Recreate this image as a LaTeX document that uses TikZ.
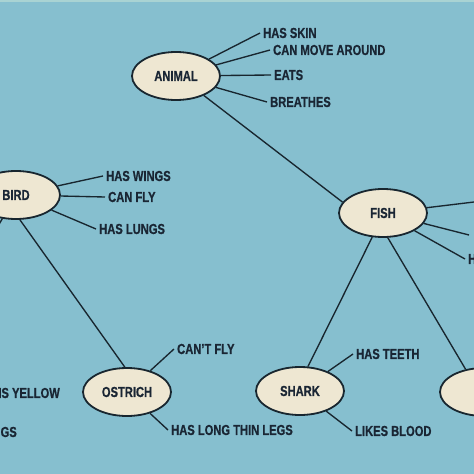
\documentclass[tikz,border=0pt]{standalone}
\usepackage{fontspec}
\setmainfont{Liberation Sans}[FakeStretch=0.77, BoldFeatures={FakeBold=0.6}]
\definecolor{seablue}{HTML}{86BFCF}
\definecolor{paleband}{HTML}{A9D3D3}
\definecolor{inkline}{HTML}{18262F}
\definecolor{inktext}{HTML}{1A2634}
\definecolor{cream}{HTML}{EEE7D2}
\tikzset{
  concept/.style={ellipse, draw=inkline, line width=1.8pt, fill=cream,
    minimum width=88pt, minimum height=48pt, inner sep=0pt,
    font=\fontsize{14.5}{15}\selectfont\bfseries, text=inktext},
  prop/.style={inner xsep=3pt, inner ysep=1pt, anchor=west,
    font=\fontsize{14.5}{15}\selectfont\bfseries, text=inktext},
  propl/.style={prop, anchor=east},
  link/.style={draw=inkline, line width=1.35pt}
}
\usetikzlibrary{shapes.geometric}
\begin{document}
\begin{tikzpicture}[x=1pt,y=-1pt]
\useasboundingbox (0,0) rectangle (474,474);
\clip (0,0) rectangle (474,474);
\fill[seablue] (0,0) rectangle (474,474);
\fill[paleband] (0,0) rectangle (474,2);
% concepts
\node[concept] (animal) at (176,76) {ANIMAL};
\node[concept] (bird) at (16,195) {BIRD};
\node[concept] (fish) at (383,213) {FISH};
\node[concept] (ostrich) at (127,392) {OSTRICH};
\node[concept] (shark) at (300,391) {SHARK};
\node[concept] (salmon) at (484,392) {};
% properties
\node[prop] (hasskin) at (260,33) {HAS SKIN};
\node[prop] (canmove) at (270,50) {CAN MOVE AROUND};
\node[prop] (eats) at (271,75) {EATS};
\node[prop] (breathes) at (267,102) {BREATHES};
\node[prop] (haswings) at (103,176) {HAS WINGS};
\node[prop] (canfly) at (105,197) {CAN FLY};
\node[prop] (haslungs) at (96,229) {HAS LUNGS};
\node[prop] (cantfly) at (174,349) {CAN'T FLY};
\node[prop] (haslong) at (168,430) {HAS LONG THIN LEGS};
\node[prop] (hasteeth) at (353,354) {HAS TEETH};
\node[prop] (likesblood) at (352,431) {LIKES BLOOD};
\node[propl] (isyellow) at (63,393) {IS YELLOW};
\node[propl] (sings) at (20,432) {SINGS};
\node[prop] (fishh) at (465,259) {H};
\coordinate (fishend1) at (474,202);
\coordinate (fishend2) at (469,235);
\coordinate (canaryend) at (-10,240);
% links
\draw[link] (animal.-35) to (fish.165);
\draw[link] (bird.-81) to (ostrich.95);
\draw[link] (fish.-114) to (shark.72);
\draw[link] (fish.-79) to (salmon.129);
\draw[link] (bird) to (canaryend);
\draw[link] (animal) to (hasskin.west);
\draw[link] (animal) to (canmove.west);
\draw[link] (animal) to (eats.west);
\draw[link] (animal) to (breathes.west);
\draw[link] (bird) to (haswings.west);
\draw[link] (bird) to (canfly.west);
\draw[link] (bird) to (haslungs.west);
\draw[link] (ostrich) to (cantfly.west);
\draw[link] (ostrich) to (haslong.west);
\draw[link] (shark) to (hasteeth.west);
\draw[link] (shark) to (likesblood.west);
\draw[link] (fish) to (fishend1);
\draw[link] (fish) to (fishend2);
\draw[link] (fish) to (fishh.west);
\end{tikzpicture}
\end{document}
